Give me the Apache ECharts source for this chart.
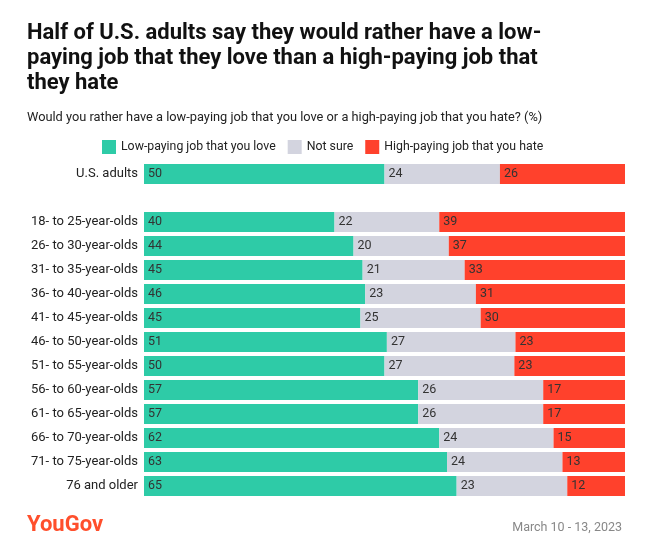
<!DOCTYPE html>
<html>
<head>
<meta charset="utf-8">
<script src="https://cdn.jsdelivr.net/npm/echarts@6/dist/echarts.min.js"></script>
<style>
html, body { margin: 0; padding: 0; background: #fff; }
#chart { width: 661px; height: 549px; }
</style>
</head>
<body>
<div id="chart"></div>
<script>
// 数据
var categories = ['U.S. adults', '', '18- to 25-year-olds', '26- to 30-year-olds', '31- to 35-year-olds',
    '36- to 40-year-olds', '41- to 45-year-olds', '46- to 50-year-olds', '51- to 55-year-olds',
    '56- to 60-year-olds', '61- to 65-year-olds', '66- to 70-year-olds', '71- to 75-year-olds', '76 and older'];
var love = [50, null, 40, 44, 45, 46, 45, 51, 50, 57, 57, 62, 63, 65];
var notSure = [24, null, 22, 20, 21, 23, 25, 27, 27, 26, 26, 24, 24, 23];
var hate = [26, null, 39, 37, 33, 31, 30, 23, 23, 17, 17, 15, 13, 12];

(function() {
    var myChart = echarts.init(document.getElementById('chart'));
    var font = 'Roboto, "Open Sans", sans-serif';
    // 每行按总和缩放到100，标签显示原值
    function share(arr, i) {
        if (arr[i] == null) return null;
        var s = love[i] + notSure[i] + hate[i];
        return { value: arr[i] / s * 100, raw: arr[i] };
    }
    function makeSeries(name, arr, color) {
        return {
            name: name,
            type: 'bar',
            stack: 'all',
            barWidth: 20,
            itemStyle: { color: color },
            label: {
                show: true,
                position: 'insideLeft',
                distance: 4,
                color: '#333',
                fontSize: 12.5,
                fontFamily: font,
                formatter: function(p) { return p.data.raw; }
            },
            data: arr.map(function(v, i) { return share(arr, i); })
        };
    }
    var option = {
        animation: false,
        title: [{
            text: 'Half of U.S. adults say they would rather have a low-\npaying job that they love than a high-paying job that\nthey hate',
            left: 22, top: 16,
            textStyle: { fontSize: 22, fontWeight: 'bold', color: '#111', lineHeight: 25, fontFamily: font }
        }, {
            text: 'Would you rather have a low-paying job that you love or a high-paying job that you hate? (%)',
            left: 22, top: 106,
            textStyle: { fontSize: 12.8, fontWeight: 'normal', color: '#222', fontFamily: font }
        }, {
            text: 'YouGov',
            left: 22, top: 509,
            textStyle: { fontSize: 22, fontWeight: 'bold', color: '#ff4f2c', fontFamily: font }
        }, {
            text: 'March 10 - 13, 2023',
            right: 34, top: 516,
            textStyle: { fontSize: 12.5, fontWeight: 'normal', color: '#888', fontFamily: font }
        }],
        legend: {
            top: 135, left: 97,
            itemWidth: 14, itemHeight: 14, itemGap: 12,
            icon: 'rect',
            textStyle: { fontSize: 12.3, color: '#222', fontFamily: font },
            data: ['Low-paying job that you love', 'Not sure', 'High-paying job that you hate']
        },
        grid: { left: 144, right: 36, top: 162, height: 336 },
        xAxis: { type: 'value', min: 0, max: 100, show: false },
        yAxis: {
            type: 'category',
            inverse: true,
            data: categories,
            axisLine: { show: false },
            axisTick: { show: false },
            axisLabel: { color: '#222', fontSize: 13, fontFamily: font, margin: 6 }
        },
        series: [
            makeSeries('Low-paying job that you love', love, '#2ecba7'),
            makeSeries('Not sure', notSure, '#d3d4df'),
            makeSeries('High-paying job that you hate', hate, '#ff412c')
        ]
    };
    myChart.setOption(option);
})();
</script>
</body>
</html>
